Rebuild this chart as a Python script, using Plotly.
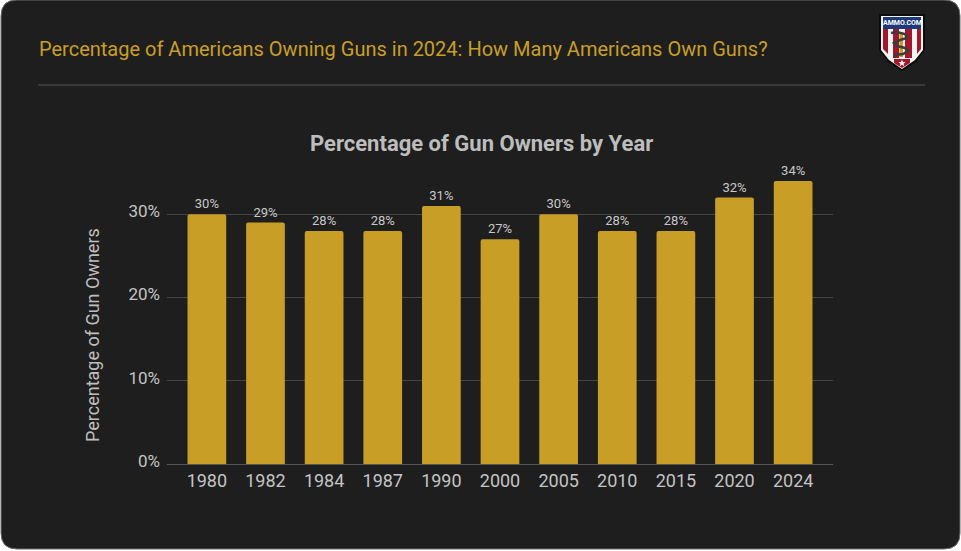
import plotly.graph_objects as go

years = ["1980", "1982", "1984", "1987", "1990", "2000", "2005", "2010", "2015", "2020", "2024"]
owners = [30, 29, 28, 28, 31, 27, 30, 28, 28, 32, 34]
y_ticks = [0, 10, 20, 30]
y_labels = ["0%", "10%", "20%", "30%"]

GOLD = "#C99E27"
CARD = "#1E1E1E"
W, H = 961, 551
L, R, T, B = 167, 833, 131, 464  # plot area in page pixels


def px(x):
    return (x - L) / (R - L)


def py(y):
    return (B - y) / (B - T)


def path(points, closed=True):
    d = "M " + " L ".join(f"{px(x):.4f},{py(y):.4f}" for x, y in points)
    return d + " Z" if closed else d


def add_shape(fig, pts, color):
    fig.add_shape(type="path", xref="paper", yref="paper", path=path(pts),
                  fillcolor=color, line=dict(width=0), layer="below")


def note(fig, text, x, y, size, color, bold=False, anchor="left", angle=0):
    fig.add_annotation(text=f"<b>{text}</b>" if bold else text, xref="paper", yref="paper",
                       x=px(x), y=py(y), xanchor=anchor, yanchor="middle", showarrow=False,
                       textangle=angle, font=dict(size=size, color=color, family="Roboto"))


fig = go.Figure(go.Bar(
    x=years, y=owners,
    marker=dict(color=GOLD, cornerradius=2, line=dict(width=0)),
    width=0.66,
    text=[f"{v}%" for v in owners],
    textposition="outside",
    cliponaxis=False,
    textfont=dict(size=13, color="#C8C8C8", family="Roboto"),
))

# card background with rounded corners
r = 16
x0, y0, x1, y1 = 1, 0, 960, 549
fig.add_shape(type="path", xref="paper", yref="paper", layer="below",
              fillcolor=CARD, line=dict(color="#6A6A6A", width=1),
              path=(f"M {px(x0 + r):.4f},{py(y0):.4f} L {px(x1 - r):.4f},{py(y0):.4f} "
                    f"Q {px(x1):.4f},{py(y0):.4f} {px(x1):.4f},{py(y0 + r):.4f} "
                    f"L {px(x1):.4f},{py(y1 - r):.4f} "
                    f"Q {px(x1):.4f},{py(y1):.4f} {px(x1 - r):.4f},{py(y1):.4f} "
                    f"L {px(x0 + r):.4f},{py(y1):.4f} "
                    f"Q {px(x0):.4f},{py(y1):.4f} {px(x0):.4f},{py(y1 - r):.4f} "
                    f"L {px(x0):.4f},{py(y0 + r):.4f} "
                    f"Q {px(x0):.4f},{py(y0):.4f} {px(x0 + r):.4f},{py(y0):.4f} Z"))

# header rule
fig.add_shape(type="line", xref="paper", yref="paper", layer="below",
              x0=px(38), x1=px(925), y0=py(85), y1=py(85), line=dict(color="#555555", width=1))

# logo shield
add_shape(fig, [(879, 14), (925, 14), (925, 50), (916, 62), (902, 71), (888, 62), (879, 50)], "#0C0C0C")
add_shape(fig, [(881, 16), (923, 16), (923, 50), (915, 60), (902, 69), (889, 60), (881, 50)], "#F4F4F4")
add_shape(fig, [(883, 29), (888, 29), (888, 54), (883, 49)], "#A3172A")
add_shape(fig, [(893, 29), (899, 29), (899, 58), (893, 58)], "#A3172A")
add_shape(fig, [(905, 29), (912, 29), (912, 58), (905, 58)], "#A3172A")
add_shape(fig, [(917, 29), (921, 29), (921, 49), (917, 54)], "#A3172A")
add_shape(fig, [(894, 59), (910, 59), (910, 63), (902, 68), (894, 63)], "#A3172A")
add_shape(fig, [(883, 17), (921, 17), (921, 29), (883, 29)], "#1C3A78")
add_shape(fig, [(899.5, 34), (903, 34), (903, 57), (899.5, 57)], GOLD)
# snake around the rod
fig.add_shape(type="path", xref="paper", yref="paper", layer="below",
              path=path([(891, 33), (897, 32), (905, 34), (907, 38), (900, 40), (894, 43),
                         (897, 46), (905, 48), (908, 51), (903, 54), (895, 55), (894, 58)], closed=False),
              line=dict(color="#3C3C3C", width=2.6))
# star
add_shape(fig, [(902, 59.5), (903, 62), (905.5, 62), (903.5, 63.7), (904.3, 66.3),
                (902, 64.8), (899.7, 66.3), (900.5, 63.7), (898.5, 62), (901, 62)], "#F4F4F4")
note(fig, "AMMO.COM", 902, 23.5, 7, "#FFFFFF", bold=True, anchor="center")

note(fig, "Percentage of Americans Owning Guns in 2024: How Many Americans Own Guns?", 37, 49, 20, GOLD)
note(fig, "Percentage of Gun Owners by Year", 481, 143, 22, "#BDBDBD", bold=True, anchor="center")
note(fig, "Percentage of Gun Owners", 92, 335, 18, "#BDBDBD", anchor="center", angle=-90)

fig.update_layout(
    width=W, height=H,
    margin=dict(l=L, r=W - R, t=T, b=H - B),
    paper_bgcolor="#FFFFFF",
    plot_bgcolor="rgba(0,0,0,0)",
    showlegend=False,
    font=dict(family="Roboto"),
    xaxis=dict(type="category", range=[-0.68, 10.68], showgrid=False, ticks="",
               showline=True, linecolor="#555555", linewidth=1,
               tickfont=dict(size=18, color="#C4C4C4")),
    yaxis=dict(range=[0, 40], tickvals=y_ticks, ticktext=y_labels, gridcolor="#444444", gridwidth=1,
               zeroline=False, ticks="", ticklabelstandoff=6, ticklabelshift=-3,
               tickfont=dict(size=17, color="#C4C4C4")),
)

fig.write_html("out.html", post_script="document.body.style.margin='0';", config=dict(displayModeBar=False))
